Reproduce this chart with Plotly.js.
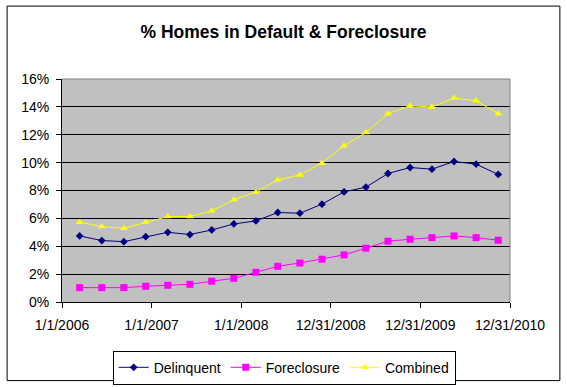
<!DOCTYPE html>
<html>
<head>
<meta charset="utf-8">
<script src="https://cdn.plot.ly/plotly-3.0.1.min.js"></script>
<style>html,body{margin:0;padding:0;background:#fff;}#chart{width:567px;height:387px;}</style>
</head>
<body>
<div id="chart"></div>
<script>
const dates = ["2006-03-14","2006-06-12","2006-09-10","2006-12-08","2007-03-08","2007-06-06","2007-09-03","2007-12-02","2008-03-01","2008-05-29","2008-08-27","2008-11-25","2009-02-23","2009-05-23","2009-08-21","2009-11-19","2010-02-16","2010-05-17","2010-08-15","2010-11-13"];
const delinquent = [4.74,4.41,4.33,4.69,5.00,4.84,5.17,5.60,5.82,6.42,6.37,7.02,7.90,8.24,9.22,9.65,9.53,10.08,9.89,9.15];
const foreclosure = [1.03,1.03,1.03,1.13,1.20,1.27,1.49,1.70,2.13,2.56,2.80,3.07,3.38,3.86,4.36,4.50,4.62,4.74,4.62,4.43];
const combined = [5.73,5.41,5.29,5.73,6.13,6.13,6.54,7.33,7.88,8.76,9.12,9.96,11.21,12.16,13.51,14.08,13.99,14.63,14.44,13.51];
const tickDates = ["2006-01-01","2007-01-01","2008-01-01","2008-12-31","2009-12-31","2010-12-31"];
const tickLabels = ["1/1/2006","1/1/2007","1/1/2008","12/31/2008","12/31/2009","12/31/2010"];

const W = 567, H = 387;
const L = 61.5, R = 510.5, T = 79.3, B = 302;
const px = x => (x - L) / (R - L);
const py = y => (B - y) / (B - T);
const font = "Liberation Sans, Arial, sans-serif";

const traces = [
  {x: dates, y: delinquent, name: "Delinquent", type: "scatter", mode: "lines+markers",
   line: {color: "#000080", width: 1}, marker: {symbol: "diamond", size: 6, color: "#000080"}},
  {x: dates, y: foreclosure, name: "Foreclosure", type: "scatter", mode: "lines+markers",
   line: {color: "#FF00FF", width: 1}, marker: {symbol: "square", size: 7, color: "#FF00FF"}},
  {x: dates, y: combined, name: "Combined", type: "scatter", mode: "lines+markers",
   line: {color: "#FFFF00", width: 1}, marker: {symbol: "triangle-up", size: 7, color: "#FFFF00"}}
];

const layout = {
  width: W, height: H,
  margin: {l: L, r: W - R, t: T, b: H - B, pad: 0, autoexpand: false},
  paper_bgcolor: "#ffffff",
  plot_bgcolor: "#C0C0C0",
  font: {family: font, size: 14, color: "#000"},
  title: {text: "% Homes in Default & Foreclosure", font: {family: font, size: 17.5, weight: "bold", color: "#000"},
          x: 0.5, xanchor: "center", xref: "container", y: (H - 32) / H, yanchor: "middle", yref: "container"},
  xaxis: {type: "date", range: ["2006-01-01", "2010-12-31"], tickmode: "array", tickvals: tickDates, ticktext: tickLabels,
          showgrid: false, zeroline: false, showline: true, linecolor: "#000", linewidth: 1, ticklabelstandoff: 5,
          ticks: "outside", ticklen: 5, tickcolor: "#000", tickfont: {family: font, size: 14, color: "#000"}, fixedrange: true},
  yaxis: {range: [0, 16], dtick: 2, tick0: 0, ticksuffix: "%", showgrid: true, gridcolor: "#000", gridwidth: 1,
          zeroline: false, showline: true, linecolor: "#000", linewidth: 1, ticklabelstandoff: 4,
          ticks: "outside", ticklen: 5, tickcolor: "#000", tickfont: {family: font, size: 14, color: "#000"}, fixedrange: true},
  showlegend: true,
  legend: {orientation: "h", xref: "container", yref: "container", x: 112.7 / W, xanchor: "left", y: 1 - 350.7 / H, yanchor: "top",
           bgcolor: "#fff", bordercolor: "#000", borderwidth: 1, font: {family: font, size: 14, color: "#000"}},
  shapes: [
    {type: "line", xref: "paper", yref: "paper", x0: 0, x1: 1, y0: 1, y1: 1, line: {color: "#808080", width: 1}},
    {type: "line", xref: "paper", yref: "paper", x0: 1, x1: 1, y0: 0, y1: 1, line: {color: "#808080", width: 1}},
    {type: "rect", xref: "paper", yref: "paper", x0: px(6.5), x1: px(560.5), y0: py(6.5), y1: py(380.5),
     line: {color: "#000", width: 1}, fillcolor: "rgba(0,0,0,0)", layer: "below"}
  ]
};

Plotly.newPlot("chart", traces, layout, {displayModeBar: false, staticPlot: true});
</script>
</body>
</html>
